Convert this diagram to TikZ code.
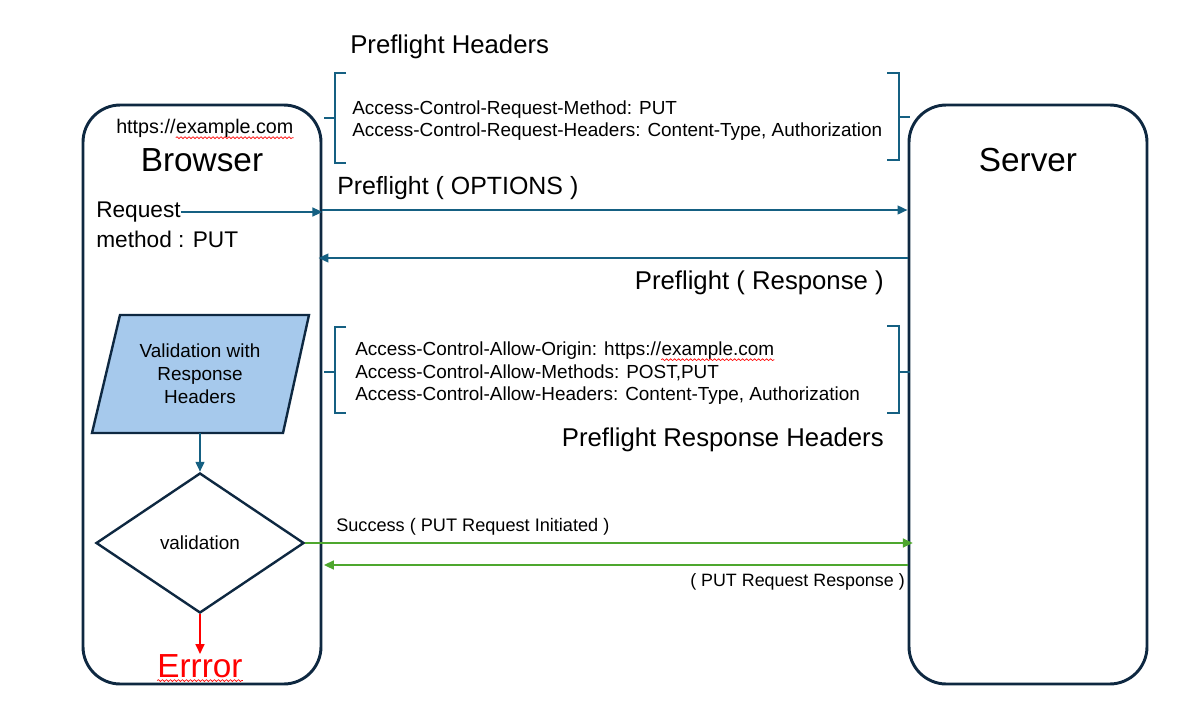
\documentclass[tikz,border=0pt]{standalone}
\usepackage{fontspec}
\setmainfont{Liberation Sans}
\usetikzlibrary{arrows.meta,shapes.geometric,decorations.pathmorphing}
\definecolor{navy}{HTML}{0E2841}
\definecolor{cblue}{HTML}{156082}
\definecolor{cgreen}{HTML}{4EA72E}
\definecolor{cfill}{HTML}{A6C9EC}
\newcommand{\fsz}[2]{\fontsize{#1}{#2}\selectfont}
\begin{document}
\begin{tikzpicture}[x=0.75pt,y=-0.75pt,
  box/.style={draw=navy, line width=2.2pt, rounded corners=28pt, minimum width=178.5pt, minimum height=434.25pt, inner sep=0pt},
  txt/.style={inner sep=0pt, text=black},
  arr/.style={draw=cblue, line width=1.7pt, -{Triangle[length=7.5pt,width=6.5pt]}},
  garr/.style={draw=cgreen, line width=1.7pt, -{Triangle[length=7.5pt,width=6.5pt]}},
  rarr/.style={draw=red, line width=1.7pt, -{Triangle[length=7.5pt,width=6.5pt]}},
  brk/.style={draw=cblue, line width=1.8pt},
  wavy/.style={draw=red, line width=0.5pt, decorate, decoration={snake, amplitude=0.7pt, segment length=3pt}},
  big/.style={font=\fsz{25}{30}},
  mid/.style={font=\fsz{19.3}{23}},
  small/.style={font=\fsz{14.2}{17.25}}
]
\useasboundingbox (0,0) rectangle (1200,714);
\fill[white] (0,0) rectangle (1200,714);

% boxes
\node[box] (brw) at (202,394.5) {};
\node[box] (srv) at (1028,394.5) {};
\node[txt,big] (brwt) at (202,160) {Browser};
\node[txt,big] (srvt) at (1028,160) {Server};
\node[txt,anchor=base west,font=\fsz{14.8}{18}] (url1) at (116,133) {https://};
\node[txt,anchor=base west,font=\fsz{14.8}{18}] (url2) at (url1.base east) {example.com};
\draw[wavy] ([yshift=-3.5pt]url2.base west) -- ([yshift=-3.5pt]url2.base east);

% request
\node[txt,anchor=west,font=\fsz{17}{20}] (req) at (96,212) {Request};
\node[txt,anchor=west,font=\fsz{17}{20}] (meth) at (96,239) {method : PUT};

% preflight headers
\node[txt,anchor=west,mid] (ph) at (350,47) {Preflight Headers};
\node[txt,anchor=west,small] (h1) at (352,110) {Access-Control-Request-Method: PUT};
\node[txt,anchor=west,small] (h2) at (352,132) {Access-Control-Request-Headers: Content-Type, Authorization};
\draw[brk] (346,73) -- (335,73) -- (335,163) -- (346,163);
\draw[brk] (335,118) -- (324,118);
\draw[brk] (887,73) -- (899,73) -- (899,160) -- (887,160);
\draw[brk] (899,117) -- (910,117);

% preflight arrows
\node[txt,anchor=west,font=\fsz{18.7}{22}] (po) at (337,188) {Preflight ( OPTIONS )};
\draw[arr] (req.east) -- (req.east -| brw.east);
\draw[arr] (brw.east |- 0,210) -- (srv.west |- 0,210);
\draw[arr] (srv.west |- 0,258) -- ([xshift=-3pt]brw.east |- 0,258);
\node[txt,anchor=east,mid] (pr) at (884,283) {Preflight ( Response )};

% response headers
\node[txt,anchor=base west,small] (r1a) at (355,355) {Access-Control-Allow-Origin: https://};
\node[txt,anchor=base west,small] (r1b) at (r1a.base east) {example.com};
\draw[wavy] ([yshift=-3.5pt]r1b.base west) -- ([yshift=-3.5pt]r1b.base east);
\node[txt,anchor=west,small] (r2) at (355,373) {Access-Control-Allow-Methods: POST,PUT};
\node[txt,anchor=west,small] (r3) at (355,396) {Access-Control-Allow-Headers: Content-Type, Authorization};
\draw[brk] (346,327) -- (335,327) -- (335,413) -- (346,413);
\draw[brk] (335,372) -- (324,372);
\draw[brk] (887,326) -- (899,326) -- (899,413) -- (887,413);
\draw[brk] (899,372) -- (910,372);
\node[txt,anchor=east,mid] (prh) at (884,440) {Preflight Response Headers};

% validation parallelogram
\draw[draw=navy, fill=cfill, line width=1.8pt] (120,315) -- (309,315) -- (283,433) -- (92,433) -- cycle;
\node[txt,small,align=center,minimum height=88.5pt] (vh) at (200,374) {Validation with\\Response\\Headers};

% diamond
\node[diamond, draw=navy, line width=1.8pt, minimum width=156pt, minimum height=105pt, inner sep=0pt, small] (dia) at (200,543) {validation};
\draw[arr] (vh.south) -- (dia.north);

% error
\node[txt,big,text=red] (err) at (200,666) {Errror};
\draw[rarr] (dia.south) -- (err.north);
\draw[wavy] ([yshift=-2pt]err.south west) -- ([yshift=-2pt]err.south east);

% put request
\node[txt,anchor=west,font=\fsz{13.6}{16}] (suc) at (336,527) {Success ( PUT Request Initiated )};
\draw[garr] (dia.east) -- ([xshift=4pt]dia.east -| srv.west);
\draw[garr] (srv.west |- 0,565) -- ([xshift=1pt]brw.east |- 0,565);
\node[txt,anchor=east,font=\fsz{13.4}{16}] (putr) at (905,582) {( PUT Request Response )};
\end{tikzpicture}
\end{document}
